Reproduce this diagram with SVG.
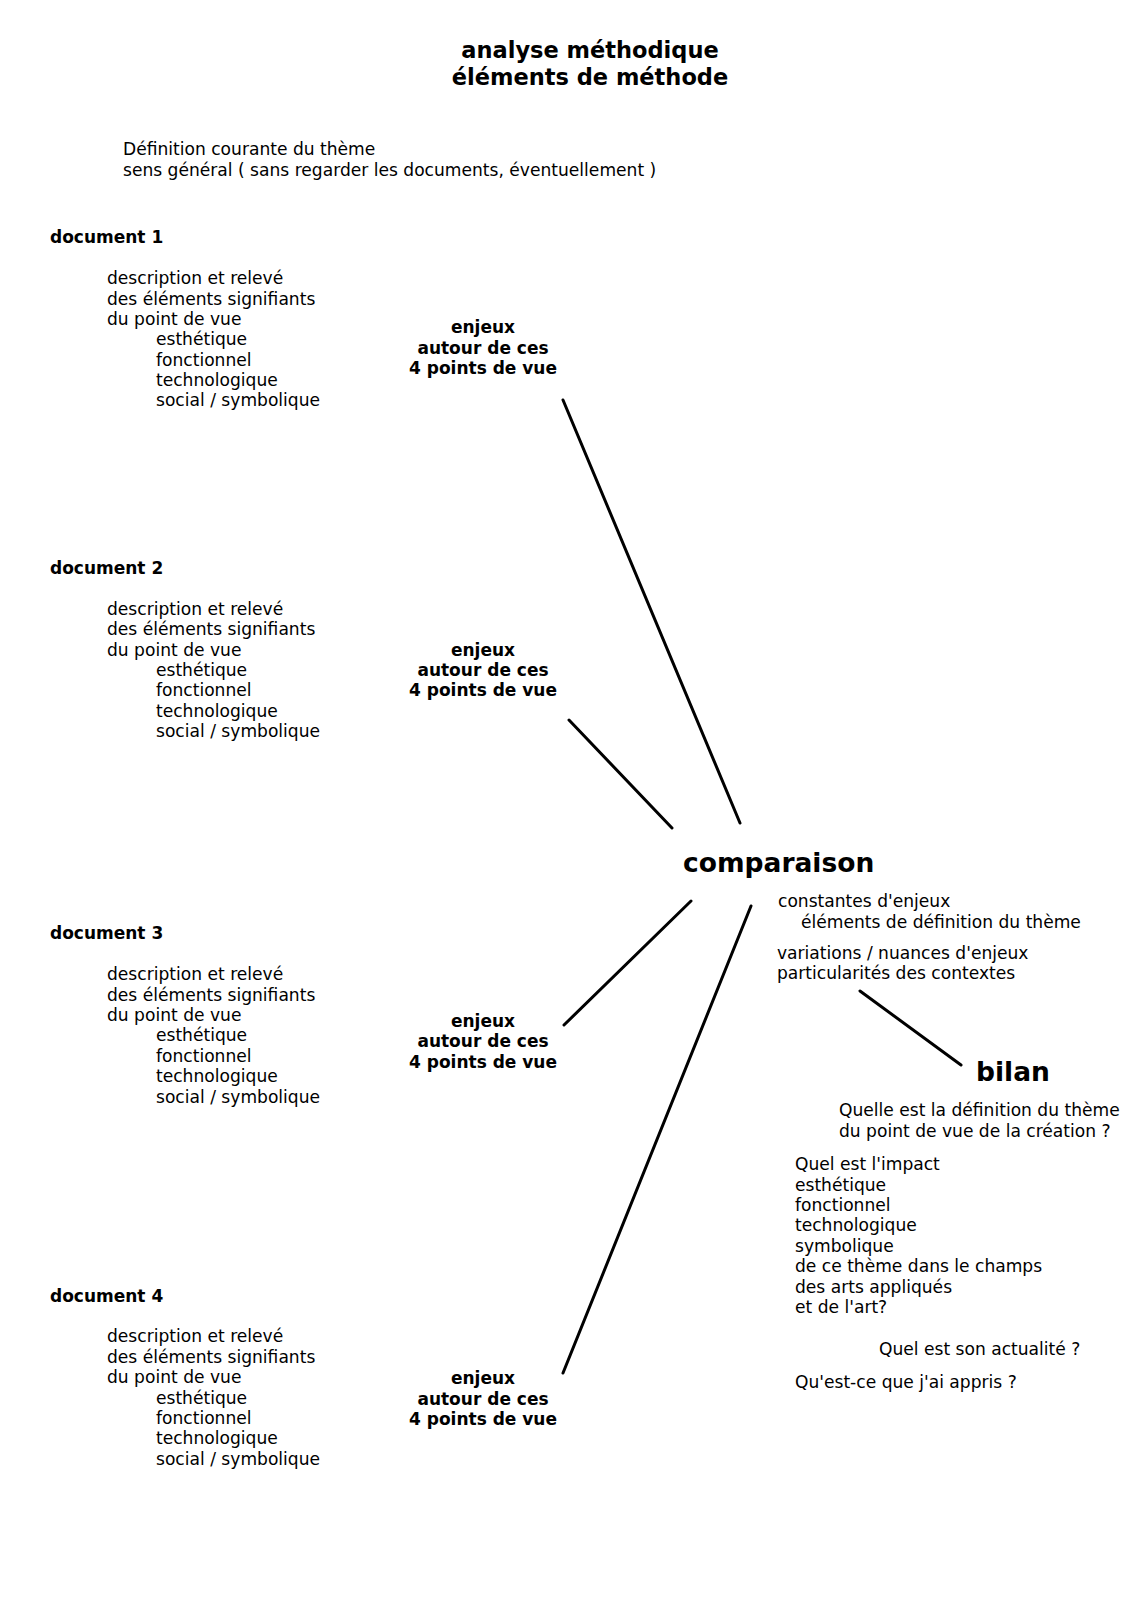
<svg xmlns="http://www.w3.org/2000/svg" width="1131" height="1600" viewBox="0 0 1131 1600">
<style>
text{font-family:"DejaVu Sans","Liberation Sans",sans-serif;fill:#000;font-size:17.1px}
.b{font-weight:bold;font-size:17px}
.t{font-size:22.5px;font-weight:bold;text-anchor:middle}
.h{font-size:26.5px;font-weight:bold}
.c{text-anchor:middle;font-weight:bold;font-size:17px}
.ln{stroke:#000;stroke-width:3;stroke-linecap:round;fill:none}
</style>
<rect width="1131" height="1600" fill="#fff"/>
<g id="title" transform="translate(0,1)">
<text class="t" x="590" y="57">analyse méthodique</text>
<text class="t" x="590" y="84">éléments de méthode</text>
</g>
<g id="definition" transform="translate(0,1)">
<text x="123" y="154">Définition courante du thème</text>
<text x="123" y="174.5">sens général ( sans regarder les documents, éventuellement )</text>
</g>
<g id="doc1" transform="translate(0,1)">
<text class="b" x="50" y="242">document 1</text>
<text x="107" y="283">description et relevé</text>
<text x="107" y="303.5">des éléments signifiants</text>
<text x="107" y="324">du point de vue</text>
<text x="156" y="344">esthétique</text>
<text x="156" y="364.5">fonctionnel</text>
<text x="156" y="385">technologique</text>
<text x="156" y="405">social / symbolique</text>
</g>
<g id="enjeux1" transform="translate(0,1)">
<text class="c" x="483" y="332">enjeux</text>
<text class="c" x="483" y="352.5">autour de ces</text>
<text class="c" x="483" y="373">4 points de vue</text>
</g>
<g id="doc2" transform="translate(0,1)">
<text class="b" x="50" y="573">document 2</text>
<text x="107" y="613.5">description et relevé</text>
<text x="107" y="634">des éléments signifiants</text>
<text x="107" y="654.5">du point de vue</text>
<text x="156" y="675">esthétique</text>
<text x="156" y="695">fonctionnel</text>
<text x="156" y="715.5">technologique</text>
<text x="156" y="736">social / symbolique</text>
</g>
<g id="enjeux2" transform="translate(0,1)">
<text class="c" x="483" y="654.5">enjeux</text>
<text class="c" x="483" y="675">autour de ces</text>
<text class="c" x="483" y="695">4 points de vue</text>
</g>
<g id="doc3" transform="translate(0,1)">
<text class="b" x="50" y="938">document 3</text>
<text x="107" y="979">description et relevé</text>
<text x="107" y="999.5">des éléments signifiants</text>
<text x="107" y="1020">du point de vue</text>
<text x="156" y="1040">esthétique</text>
<text x="156" y="1060.5">fonctionnel</text>
<text x="156" y="1081">technologique</text>
<text x="156" y="1101.5">social / symbolique</text>
</g>
<g id="enjeux3" transform="translate(0,1)">
<text class="c" x="483" y="1026">enjeux</text>
<text class="c" x="483" y="1046">autour de ces</text>
<text class="c" x="483" y="1066.5">4 points de vue</text>
</g>
<g id="doc4" transform="translate(0,1)">
<text class="b" x="50" y="1300.5">document 4</text>
<text x="107" y="1341">description et relevé</text>
<text x="107" y="1361.5">des éléments signifiants</text>
<text x="107" y="1382">du point de vue</text>
<text x="156" y="1402.5">esthétique</text>
<text x="156" y="1423">fonctionnel</text>
<text x="156" y="1443">technologique</text>
<text x="156" y="1463.5">social / symbolique</text>
</g>
<g id="enjeux4" transform="translate(0,1)">
<text class="c" x="483" y="1383">enjeux</text>
<text class="c" x="483" y="1403.5">autour de ces</text>
<text class="c" x="483" y="1424">4 points de vue</text>
</g>
<g id="comparaison" transform="translate(0,1)">
<text class="h" x="683" y="871">comparaison</text>
<text x="778" y="906">constantes d'enjeux</text>
<text x="801" y="927">éléments de définition du thème</text>
<text x="777" y="957.5">variations / nuances d'enjeux</text>
<text x="777" y="978">particularités des contextes</text>
</g>
<g id="bilan" transform="translate(0,1)">
<text class="h" x="976" y="1080">bilan</text>
<text x="839" y="1115">Quelle est la définition du thème</text>
<text x="839" y="1135.5">du point de vue de la création ?</text>
<text x="795" y="1169">Quel est l'impact</text>
<text x="795" y="1189.5">esthétique</text>
<text x="795" y="1210">fonctionnel</text>
<text x="795" y="1230">technologique</text>
<text x="795" y="1250.5">symbolique</text>
<text x="795" y="1271">de ce thème dans le champs</text>
<text x="795" y="1291.5">des arts appliqués</text>
<text x="795" y="1312">et de l'art?</text>
<text x="879" y="1354">Quel est son actualité ?</text>
<text x="795" y="1387">Qu'est-ce que j'ai appris ?</text>
</g>
<g id="connectors">
<line class="ln" x1="563" y1="400" x2="740" y2="823"/>
<line class="ln" x1="569" y1="720" x2="672" y2="828"/>
<line class="ln" x1="691" y1="901" x2="564" y2="1025"/>
<line class="ln" x1="751" y1="906" x2="563" y2="1373"/>
<line class="ln" x1="860" y1="991" x2="961" y2="1065"/>
</g>
</svg>
